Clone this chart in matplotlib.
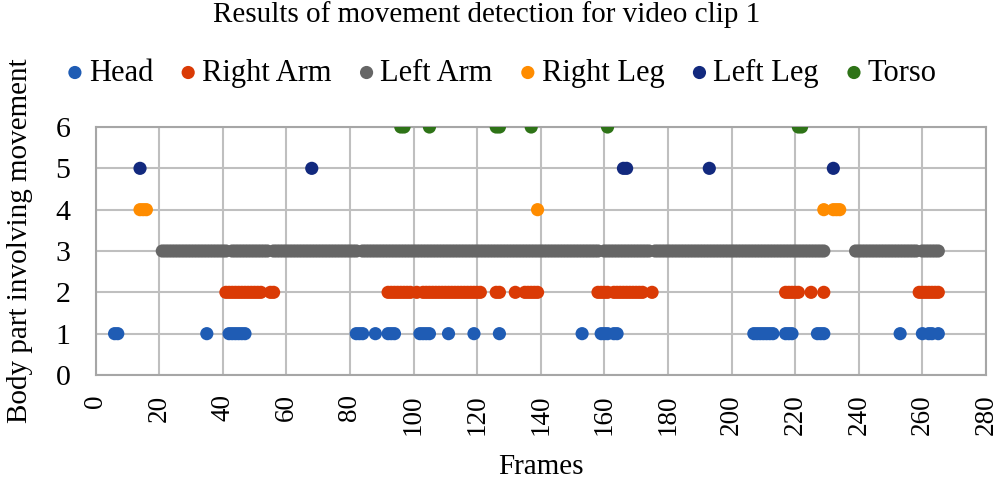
import matplotlib
matplotlib.use("Agg")
import matplotlib.pyplot as plt

# frames (x) in which each body part was detected as moving
head_frames = [6, 7, 35, 42, 43, 44, 45, 46, 47, 82, 83, 84, 88, 92, 93, 94,
               102, 103, 104, 105, 111, 119, 127, 153, 159, 160, 161, 163, 164,
               207, 208, 209, 210, 211, 212, 213, 217, 218, 219, 227, 228, 229,
               253, 260, 262, 263, 265]
right_arm_frames = [41, 42, 43, 44, 45, 46, 47, 48, 49, 50, 51, 52, 55, 56,
                    92, 93, 94, 95, 96, 97, 98, 99, 101,
                    103, 104, 105, 106, 107, 108, 109, 110, 111, 112, 113, 114,
                    115, 116, 117, 118, 119, 120, 121, 126, 127, 132,
                    135, 136, 137, 138, 139,
                    158, 159, 160, 161, 163, 164, 165, 166, 167, 168, 169, 170,
                    171, 172, 175, 217, 218, 219, 220, 221, 225, 229,
                    259, 260, 261, 262, 263, 264, 265]
left_arm_frames = [21, 22, 23, 24, 25, 26, 27, 28, 29, 30, 31, 32, 33, 34, 35,
                   36, 37, 38, 39, 40, 41, 43, 44, 45, 46, 47, 48, 49, 50, 51,
                   52, 53, 54, 56, 57, 58, 59, 60, 61, 62, 63, 64, 65, 66, 67,
                   68, 69, 70, 71, 72, 73, 74, 75, 76, 77, 78, 79, 80, 81, 82,
                   84, 85, 86, 87, 88, 89, 90, 91, 92, 93, 94, 95, 96, 97, 98,
                   99, 100, 101, 102, 103, 104, 105, 106, 107, 108, 109, 110,
                   111, 112, 113, 114, 115, 116, 117, 118, 119, 120, 121, 122,
                   123, 124, 125, 126, 127, 128, 129, 130, 131, 132, 133, 134,
                   135, 136, 137, 138, 139, 140, 141, 142, 143, 144, 145, 146,
                   147, 148, 149, 150, 151, 152, 153, 154, 155, 156, 157, 158,
                   160, 161, 162, 163, 164, 165, 166, 167, 168, 169, 170, 171,
                   172, 173, 174, 176, 177, 178, 179, 180, 181, 182, 183, 184,
                   185, 186, 187, 188, 189, 190, 191, 192, 193, 194, 195, 196,
                   197, 198, 199, 200, 201, 202, 203, 204, 205, 206, 207, 208,
                   209, 210, 211, 212, 213, 214, 215, 216, 217, 218, 219, 220,
                   221, 222, 223, 224, 225, 226, 227, 228, 229,
                   239, 240, 241, 242, 243, 244, 245, 246, 247, 248, 249, 250,
                   251, 252, 253, 254, 255, 256, 257, 258, 260, 261, 262, 263,
                   264, 265]
right_leg_frames = [14, 15, 16, 139, 229, 232, 233, 234]
left_leg_frames = [14, 68, 166, 167, 193, 232]
torso_frames = [96, 97, 105, 126, 127, 137, 161, 221, 222]

series = [
    ("Head", head_frames, 1, "#1F5CB4"),
    ("Right Arm", right_arm_frames, 2, "#DA3A05"),
    ("Left Arm", left_arm_frames, 3, "#666666"),
    ("Right Leg", right_leg_frames, 4, "#FF8C00"),
    ("Left Leg", left_leg_frames, 5, "#12297E"),
    ("Torso", torso_frames, 6, "#2E7317"),
]

plt.rcParams['font.family'] = ['Liberation Serif', 'DejaVu Serif']

fig = plt.figure(figsize=(10, 4.82), dpi=100)
ax = fig.add_axes([0.0955, 0.222, 0.8905, 0.5145])

for name, frames, part, color in series:
    ax.scatter(frames, [part] * len(frames), s=90, color=color, label=name,
               edgecolors='none', zorder=3)

ax.set_xlim(0, 280)
ax.set_ylim(0, 6)
ax.set_xticks(range(0, 281, 20))
ax.set_yticks(range(0, 7))
ax.tick_params(axis='x', labelrotation=90, labelsize=19.5, length=0, pad=14)
ax.tick_params(axis='y', labelsize=21.5, length=0, pad=18)
ax.grid(True, color='#BFBFBF', linewidth=1.5, zorder=0)
for sp in ax.spines.values():
    sp.set_color('#A6A6A6')
    sp.set_linewidth(1.5)

ax.set_xlabel("Frames", fontsize=21)
ax.xaxis.set_label_coords(0.5, -0.371)
ax.xaxis.label.set_verticalalignment('center')
ax.set_ylabel("Body part involving movement", fontsize=21)
ax.yaxis.set_label_coords(-0.085, 0.54)
ax.yaxis.label.set_verticalalignment('center')

fig.text(0.4865, 1 - 15 / 482, "Results of movement detection for video clip 1",
         ha='center', va='center', fontsize=21)

fig.legend(loc='center', bbox_to_anchor=(0.502, 0.8485), ncol=6, frameon=False,
           fontsize=22, markerscale=1.0, handlelength=0.5, handletextpad=0.2,
           columnspacing=0.9, borderpad=0.2)

fig.savefig("out.png", dpi=100)
